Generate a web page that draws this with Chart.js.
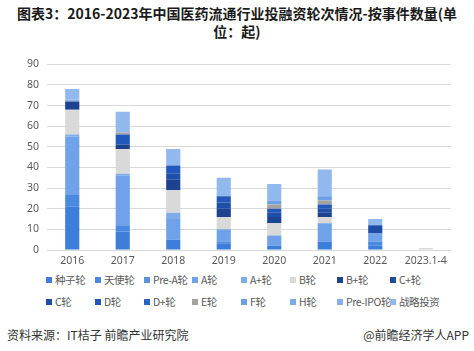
<!DOCTYPE html>
<html>
<head>
<meta charset="utf-8">
<script src="https://cdn.jsdelivr.net/npm/chart.js@4"></script>
<style>
  html, body { margin: 0; padding: 0; background: #ffffff; }
  body { width: 474px; height: 351px; position: relative; overflow: hidden; font-family: "Noto Sans CJK SC", "Noto Sans", sans-serif; }
  #title { position: absolute; left: 0; top: 4px; width: 474px; text-align: center; font-weight: bold; font-size: 14px; line-height: 18px; color: #1a1a1a; }
  #wrap { position: absolute; left: 0; top: 50px; width: 474px; height: 222px; }
  #legend { position: absolute; left: 0; top: 272px; width: 474px; height: 44px; }
  .li { position: absolute; font-size: 10.5px; color: #595959; line-height: 14px; white-space: nowrap; letter-spacing: -0.4px; }
  .li span.sq { display: inline-block; width: 6px; height: 6px; margin-right: 3px; vertical-align: 1px; }
  #source { position: absolute; left: 7px; top: 326px; font-size: 12px; color: #333; }
  #app { position: absolute; right: 5px; top: 326px; font-size: 12px; color: #333; }
</style>
</head>
<body>
<div id="title">图表3：2016-2023年中国医药流通行业投融资轮次情况-按事件数量(单<br>位：起)</div>
<div id="wrap"><canvas id="c" width="474" height="222"></canvas></div>
<div id="legend"></div>
<div id="source">资料来源：IT桔子 前瞻产业研究院</div>
<div id="app">@前瞻经济学人APP</div>
<script>
const categories = ['2016', '2017', '2018', '2019', '2020', '2021', '2022', '2023.1-4'];
const yTicks = [0, 10, 20, 30, 40, 50, 60, 70, 80, 90];

const seed       = [21, 9, 5, 3, 2, 4, 2, 0];
const angel      = [6, 3, 0, 1, 0, 0, 2, 0];
const preA       = [0, 0, 0, 0, 0, 0, 0, 0];
const roundA     = [28, 24, 10, 6, 5, 9, 4, 0];
const roundAPlus = [1, 1, 3, 0, 0, 0, 0, 0];
const roundB     = [12, 12, 11, 6, 6, 3, 0, 1];
const roundBPlus = [4, 2, 5, 4, 3, 2, 0, 0];
const roundCPlus = [0, 0, 0, 0, 0, 0, 0, 0];
const roundC     = [0, 0, 3, 3, 2, 2, 4, 0];
const roundD     = [0, 5, 4, 3, 2, 2, 0, 0];
const roundDPlus = [0, 0, 0, 0, 0, 0, 0, 0];
const roundE     = [0, 1, 0, 0, 2, 2, 0, 0];
const roundF     = [0, 0, 0, 0, 2, 2, 0, 0];
const roundH     = [0, 0, 0, 0, 0, 0, 0, 0];
const preIPO     = [1, 0, 0, 0, 0, 0, 0, 0];
const strategic  = [5, 10, 8, 9, 8, 13, 3, 0];

const seriesNames = ['种子轮', '天使轮', 'Pre-A轮', 'A轮', 'A+轮', 'B轮', 'B+轮', 'C+轮', 'C轮', 'D轮', 'D+轮', 'E轮', 'F轮', 'H轮', 'Pre-IPO轮', '战略投资'];
const seriesValues = [seed, angel, preA, roundA, roundAPlus, roundB, roundBPlus, roundCPlus, roundC, roundD, roundDPlus, roundE, roundF, roundH, preIPO, strategic];
const seriesColors = ['#3d7edb', '#4a89e0', '#5a92e0', '#6fa2e8', '#7eaceb', '#d9d9d9', '#1d4390', '#1f4a9c', '#1f4ea6', '#2258bb', '#2a64c6', '#a5a39f', '#6d9fe6', '#7baaeb', '#86b0ea', '#92b9ee'];

const datasets = seriesNames.map((n, i) => ({
  label: n,
  data: seriesValues[i],
  backgroundColor: seriesColors[i],
  borderWidth: 0,
  categoryPercentage: 1.0,
  barPercentage: 0.28
}));

new Chart(document.getElementById('c'), {
  type: 'bar',
  data: { labels: categories, datasets },
  options: {
    responsive: false,
    animation: false,
    layout: { padding: { top: 12, right: 23, left: 0, bottom: 0 } },
    plugins: { legend: { display: false }, tooltip: { enabled: false }, title: { display: false } },
    scales: {
      x: {
        stacked: true,
        grid: { display: false, drawTicks: false },
        border: { display: false },
        ticks: { color: '#595959', font: { size: 10.5, family: "'Noto Sans', 'Liberation Sans', sans-serif" }, padding: 5, maxRotation: 0, autoSkip: false },
        afterFit: s => { s.height = 22; }
      },
      y: {
        stacked: true,
        min: 0, max: 90,
        afterBuildTicks: s => { s.ticks = yTicks.map(v => ({ value: v })); },
        grid: { color: '#d9d9d9', lineWidth: 1, drawTicks: false },
        border: { display: false },
        ticks: { color: '#595959', font: { size: 10.5, family: "'Noto Sans', 'Liberation Sans', sans-serif" }, padding: 8 },
        afterFit: s => { s.width = 47; }
      }
    }
  }
});

const legend = document.getElementById('legend');
const colX = [46, 95, 144, 192, 241, 290, 337, 390];
seriesNames.forEach((n, i) => {
  const row = Math.floor(i / 8), col = i % 8;
  const d = document.createElement('div');
  d.className = 'li';
  d.style.left = colX[col] + 'px';
  d.style.top = (row === 0 ? 1 : 23) + 'px';
  d.innerHTML = '<span class="sq" style="background:' + seriesColors[i] + '"></span>' + n;
  legend.appendChild(d);
});
</script>
</body>
</html>
